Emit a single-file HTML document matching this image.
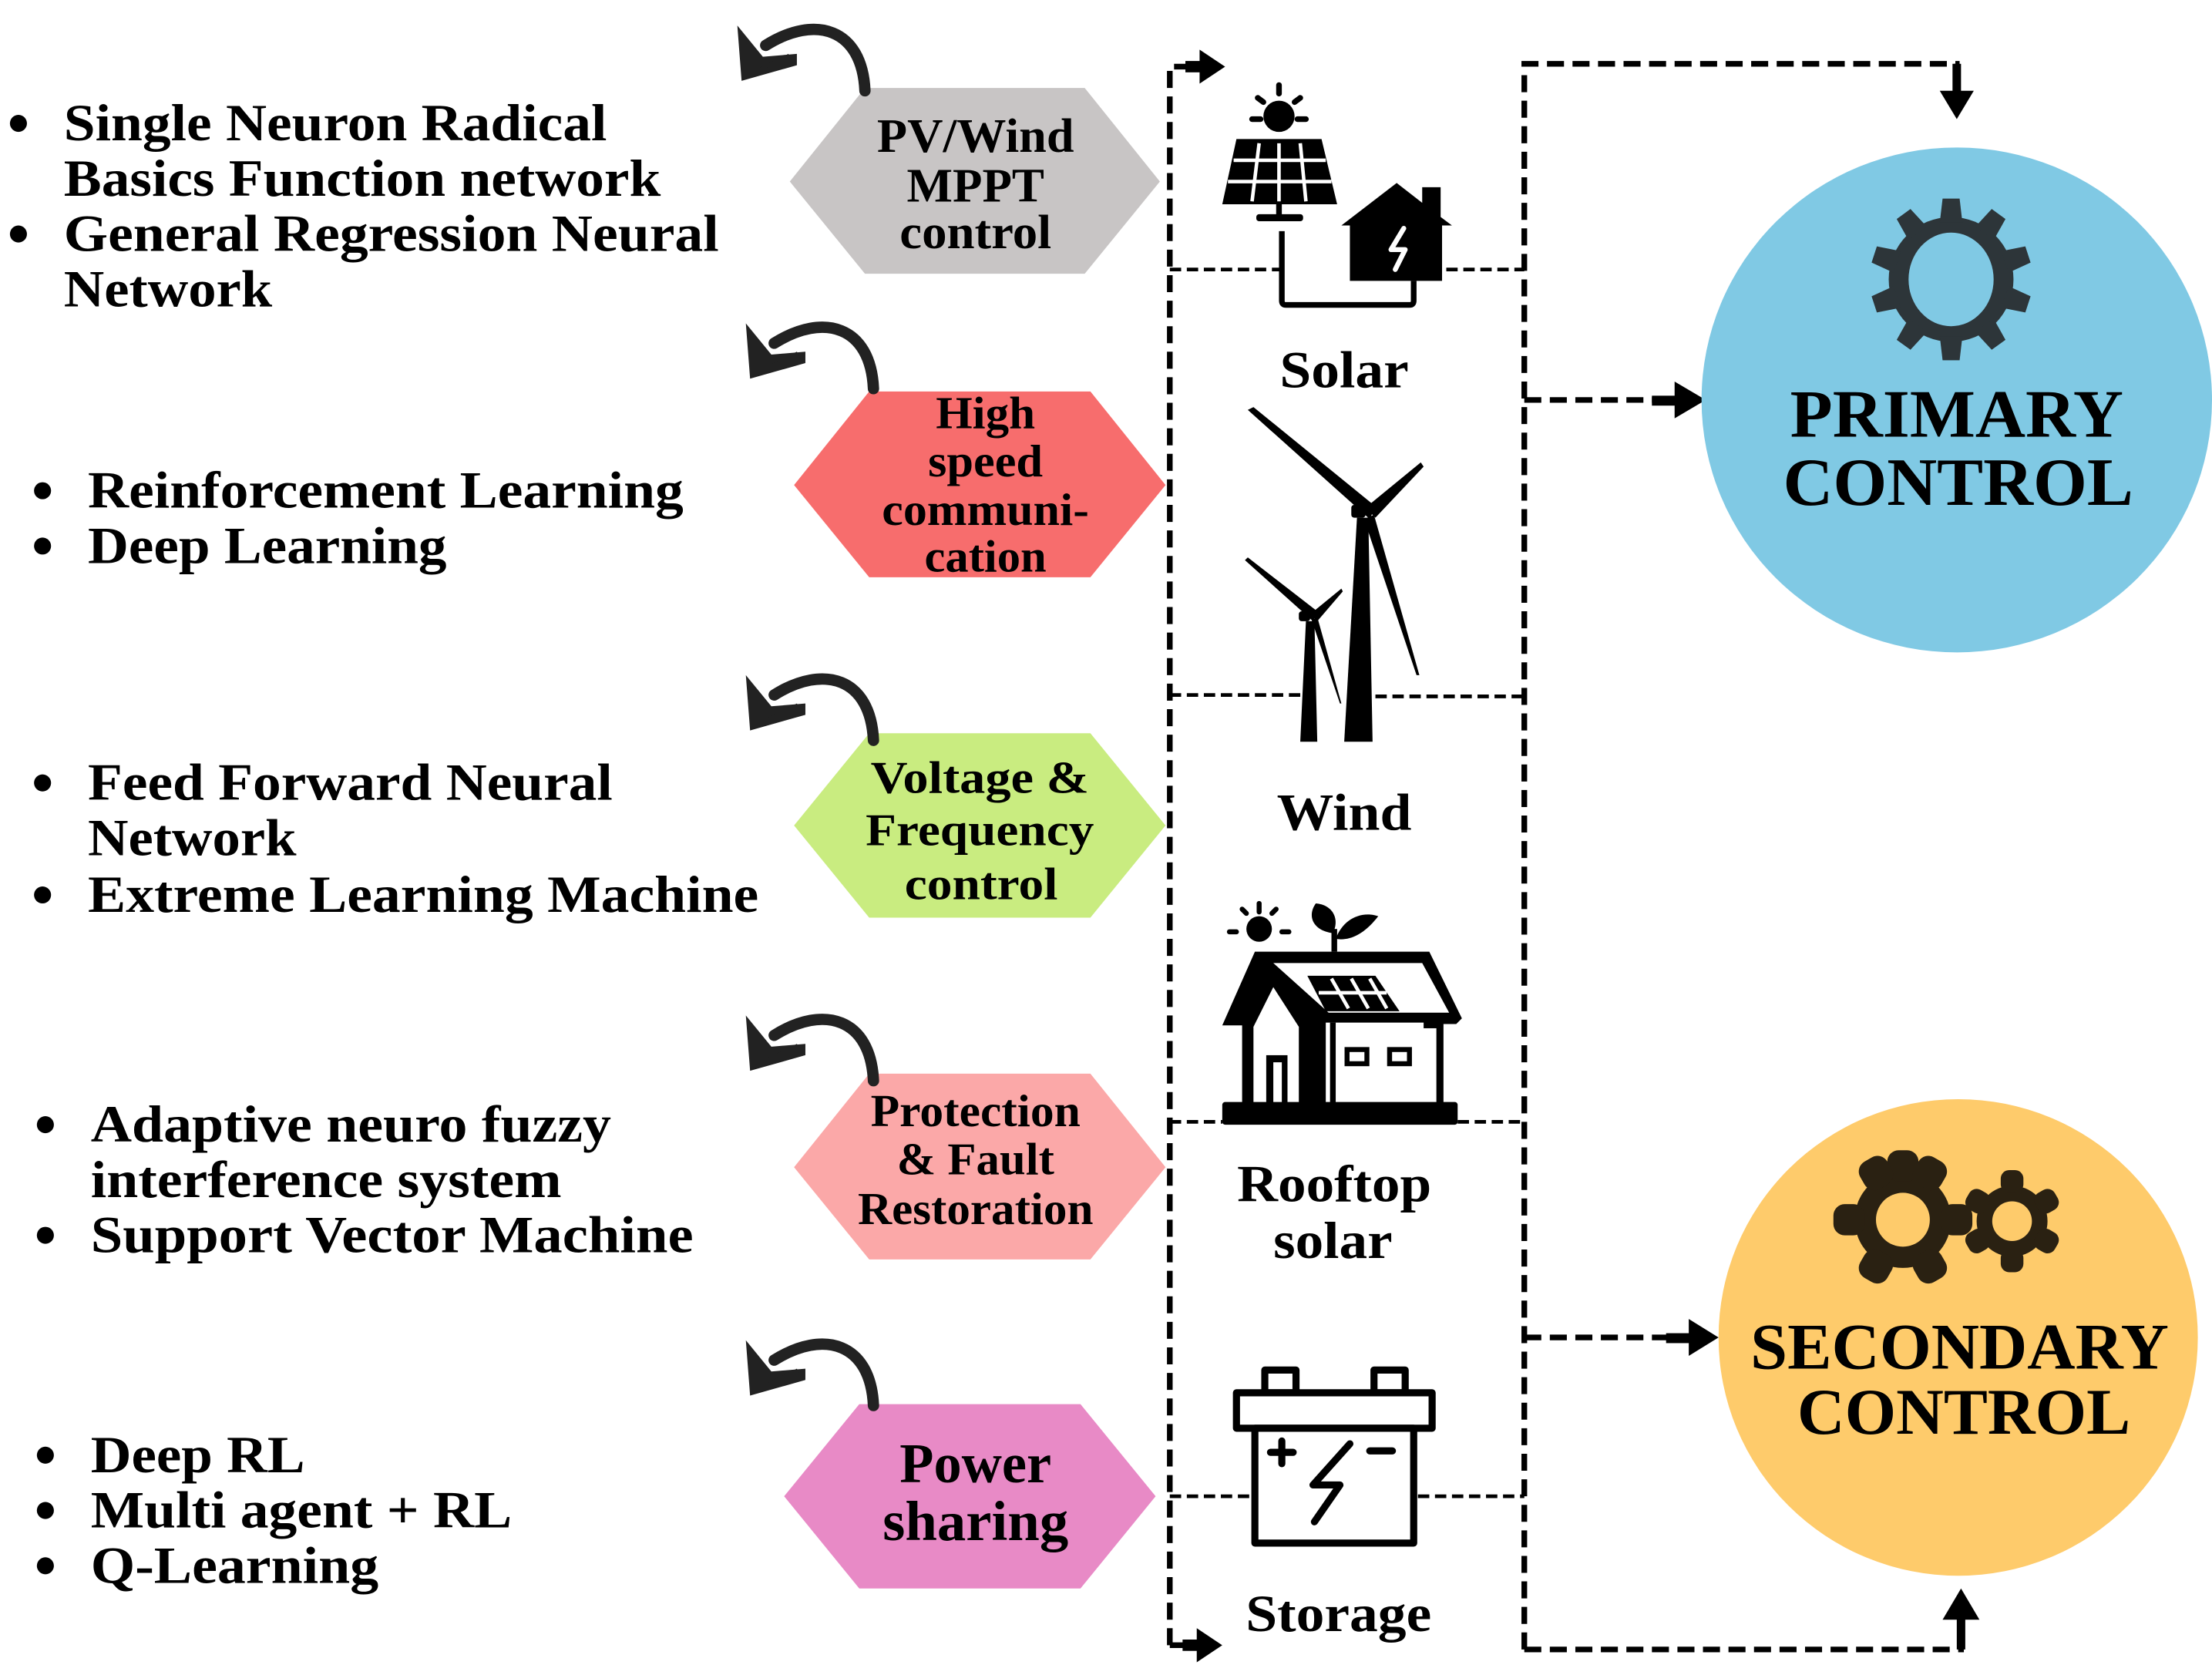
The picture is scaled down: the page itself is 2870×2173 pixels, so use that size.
<!DOCTYPE html>
<html><head><meta charset="utf-8"><style>
html,body{margin:0;padding:0;background:#fff;}
svg{display:block;}
text{font-family:"Liberation Serif",serif;font-weight:bold;fill:#000;}
</style></head><body>
<svg width="2870" height="2173" viewBox="0 0 1560 1181" preserveAspectRatio="none" xmlns="http://www.w3.org/2000/svg">
<defs>
<g id="carrow">
<path d="M610 64 C608 20 575 10 540 32" fill="none" stroke="#222" stroke-width="8" stroke-linecap="round"/>
<polygon points="520,18 523,57 562,46 562,38 538,40" fill="#222"/>
<path d="M556 38 L560 46 L535 48 Z" fill="#222"/>
</g>
</defs>

<!-- dashed connectors -->
<g fill="none" stroke="#000" stroke-width="4" stroke-dasharray="12,6">
<path d="M825 1160 V47 H850"/>
<path d="M1075 1163 V45 H1380 V70"/>
<path d="M1075 282 H1185"/>
<path d="M1075 943 H1195"/>
<path d="M1075 1163 H1383 V1140"/>
<path d="M825 1160 H848"/>
</g>
<g fill="none" stroke="#000" stroke-width="2.6" stroke-dasharray="8,4">
<path d="M825 190 H905 M1020 190 H1075"/>
<path d="M825 490 H920 M970 491 H1075"/>
<path d="M825 791 H862 M1028 791 H1075"/>
<path d="M825 1055 H885 M1000 1055 H1075"/>
</g>
<!-- arrowheads -->
<polygon points="846,35 864,47 846,59" fill="#000"/>
<rect x="836" y="43" width="12" height="8" fill="#000"/>
<polygon points="1368,64 1392,64 1380,84" fill="#000"/>
<rect x="1377" y="45" width="6" height="22" fill="#000"/>
<polygon points="1181,269 1203,282 1181,295" fill="#000"/>
<rect x="1165" y="279" width="18" height="7" fill="#000"/>
<polygon points="1191,930 1212,943 1191,956" fill="#000"/>
<rect x="1175" y="940" width="18" height="7" fill="#000"/>
<polygon points="1370,1142 1396,1142 1383,1120" fill="#000"/>
<polygon points="844,1148 862,1160 844,1172" fill="#000"/>
<rect x="834" y="1156" width="12" height="8" fill="#000"/>
<rect x="1380" y="1135" width="6" height="28" fill="#000"/>

<!-- circles -->
<ellipse cx="1380" cy="282" rx="180" ry="178" fill="#80c9e4"/>
<ellipse cx="1381" cy="943" rx="169" ry="168" fill="#fecb6b"/>

<!-- primary gear -->
<g transform="translate(1376,197)" fill="#2d3539">
<circle r="44"/>
<g id="t10"><polygon points="-8,-40 8,-40 6,-57 -6,-57"/></g>
<use href="#t10" transform="rotate(36)"/><use href="#t10" transform="rotate(72)"/><use href="#t10" transform="rotate(108)"/><use href="#t10" transform="rotate(144)"/><use href="#t10" transform="rotate(180)"/><use href="#t10" transform="rotate(216)"/><use href="#t10" transform="rotate(252)"/><use href="#t10" transform="rotate(288)"/><use href="#t10" transform="rotate(324)"/>
<ellipse rx="30" ry="33" fill="#80c9e4"/>
</g>
<!-- secondary gears -->
<g transform="translate(1342,860)" fill="#2a2112">
<circle r="34"/>
<g id="tb"><rect x="-11" y="-49" width="22" height="22" rx="8"/></g>
<use href="#tb" transform="rotate(90)"/><use href="#tb" transform="rotate(30)"/><use href="#tb" transform="rotate(150)"/><use href="#tb" transform="rotate(210)"/><use href="#tb" transform="rotate(270)"/><use href="#tb" transform="rotate(330)"/>
<circle r="19" fill="#fecb6b"/>
</g>
<g transform="translate(1419,861)" fill="#2a2112">
<circle r="25"/>
<g id="ts"><rect x="-8" y="-36" width="16" height="16" rx="6"/></g>
<use href="#ts" transform="rotate(60)"/><use href="#ts" transform="rotate(120)"/><use href="#ts" transform="rotate(180)"/><use href="#ts" transform="rotate(240)"/><use href="#ts" transform="rotate(300)"/>
<circle r="14" fill="#fecb6b"/>
</g>

<text x="1380" y="308" font-size="48" text-anchor="middle" textLength="235" lengthAdjust="spacingAndGlyphs">PRIMARY</text>
<text x="1381" y="356" font-size="48" text-anchor="middle" textLength="247" lengthAdjust="spacingAndGlyphs">CONTROL</text>
<text x="1382" y="965" font-size="46" text-anchor="middle" textLength="295" lengthAdjust="spacingAndGlyphs">SECONDARY</text>
<text x="1385" y="1011" font-size="46" text-anchor="middle" textLength="235" lengthAdjust="spacingAndGlyphs">CONTROL</text>

<!-- hexagons -->
<polygon points="557,128 610,62 765,62 818,128 765,193 610,193" fill="#c8c5c5"/>
<polygon points="560,342 613,276 769,276 822,342 769,407 613,407" fill="#f76d6d"/>
<polygon points="560,582 613,517 769,517 822,582 769,647 613,647" fill="#c9ec80"/>
<polygon points="560,823 613,757 769,757 822,823 769,888 613,888" fill="#fba8a8"/>
<polygon points="553,1055 606,990 762,990 815,1055 762,1120 606,1120" fill="#e88ac6"/>

<g font-size="34" text-anchor="middle">
<text x="688" y="107" textLength="139" lengthAdjust="spacingAndGlyphs">PV/Wind</text>
<text x="688" y="142" textLength="97" lengthAdjust="spacingAndGlyphs">MPPT</text>
<text x="688" y="175" textLength="107" lengthAdjust="spacingAndGlyphs">control</text>
</g>
<g font-size="32" text-anchor="middle">
<text x="695" y="302" textLength="70" lengthAdjust="spacingAndGlyphs">High</text>
<text x="695" y="336" textLength="81" lengthAdjust="spacingAndGlyphs">speed</text>
<text x="695" y="370" textLength="146" lengthAdjust="spacingAndGlyphs">communi-</text>
<text x="695" y="403" textLength="86" lengthAdjust="spacingAndGlyphs">cation</text>
<text x="691" y="559" textLength="154" lengthAdjust="spacingAndGlyphs">Voltage &amp;</text>
<text x="691" y="596" textLength="161" lengthAdjust="spacingAndGlyphs">Frequency</text>
<text x="692" y="634" textLength="108" lengthAdjust="spacingAndGlyphs">control</text>
<text x="688" y="794" textLength="148" lengthAdjust="spacingAndGlyphs">Protection</text>
<text x="688" y="828" textLength="111" lengthAdjust="spacingAndGlyphs">&amp; Fault</text>
<text x="688" y="863" textLength="166" lengthAdjust="spacingAndGlyphs">Restoration</text>
</g>
<g font-size="40" text-anchor="middle">
<text x="688" y="1045" textLength="107" lengthAdjust="spacingAndGlyphs">Power</text>
<text x="688" y="1086" textLength="131" lengthAdjust="spacingAndGlyphs">sharing</text>
</g>

<!-- curved arrows -->
<use href="#carrow"/>
<use href="#carrow" transform="translate(6,210)"/>
<use href="#carrow" transform="translate(6,458)"/>
<use href="#carrow" transform="translate(6,698)"/>
<use href="#carrow" transform="translate(6,927)"/>

<!-- left text -->
<g font-size="37">
<circle cx="13" cy="87" r="6"/><circle cx="13" cy="165" r="6"/>
<text x="45" y="99" textLength="383" lengthAdjust="spacingAndGlyphs">Single Neuron Radical</text>
<text x="45" y="138" textLength="421" lengthAdjust="spacingAndGlyphs">Basics Function network</text>
<text x="45" y="177" textLength="462" lengthAdjust="spacingAndGlyphs">General Regression Neural</text>
<text x="45" y="216" textLength="147" lengthAdjust="spacingAndGlyphs">Network</text>
<circle cx="30" cy="346" r="6"/><circle cx="30" cy="385" r="6"/>
<text x="62" y="358" textLength="420" lengthAdjust="spacingAndGlyphs">Reinforcement Learning</text>
<text x="62" y="397" textLength="253" lengthAdjust="spacingAndGlyphs">Deep Learning</text>
<circle cx="30" cy="552" r="6"/><circle cx="30" cy="631" r="6"/>
<text x="62" y="564" textLength="370" lengthAdjust="spacingAndGlyphs">Feed Forward Neural</text>
<text x="62" y="603" textLength="147" lengthAdjust="spacingAndGlyphs">Network</text>
<text x="62" y="643" textLength="473" lengthAdjust="spacingAndGlyphs">Extreme Learning Machine</text>
<circle cx="32" cy="793" r="6"/><circle cx="32" cy="871" r="6"/>
<text x="64" y="805" textLength="367" lengthAdjust="spacingAndGlyphs">Adaptive neuro fuzzy</text>
<text x="64" y="844" textLength="332" lengthAdjust="spacingAndGlyphs">interference system</text>
<text x="64" y="883" textLength="425" lengthAdjust="spacingAndGlyphs">Support Vector Machine</text>
<circle cx="32" cy="1026" r="6"/><circle cx="32" cy="1065" r="6"/><circle cx="32" cy="1104" r="6"/>
<text x="64" y="1038" textLength="151" lengthAdjust="spacingAndGlyphs">Deep RL</text>
<text x="64" y="1077" textLength="297" lengthAdjust="spacingAndGlyphs">Multi agent + RL</text>
<text x="64" y="1116" textLength="203" lengthAdjust="spacingAndGlyphs">Q-Learning</text>
</g>

<!-- icon labels -->
<g font-size="37" text-anchor="middle">
<text x="948" y="273" textLength="91" lengthAdjust="spacingAndGlyphs">Solar</text>
<text x="948" y="585" textLength="95" lengthAdjust="spacingAndGlyphs">Wind</text>
<text x="941" y="847" textLength="137" lengthAdjust="spacingAndGlyphs">Rooftop</text>
<text x="940" y="887" textLength="84" lengthAdjust="spacingAndGlyphs">solar</text>
<text x="944" y="1150" textLength="131" lengthAdjust="spacingAndGlyphs">Storage</text>
</g>

<!-- solar icon -->
<g fill="#000" stroke="#000">
<circle cx="902" cy="82" r="11" stroke="none"/>
<g stroke-width="4" stroke-linecap="round">
<line x1="902" y1="60" x2="902" y2="66"/><line x1="887" y1="69" x2="891" y2="72"/><line x1="917" y1="69" x2="913" y2="72"/>
<line x1="883" y1="84" x2="889" y2="84"/><line x1="915" y1="84" x2="921" y2="84"/>
</g>
<polygon points="872,98 932,98 943,144 862,144" stroke="none"/>
<g stroke="#fff" stroke-width="2.5">
<line x1="870" y1="113" x2="935" y2="113"/><line x1="866" y1="128" x2="939" y2="128"/>
<line x1="888" y1="101" x2="883" y2="142"/><line x1="902" y1="101" x2="902" y2="142"/><line x1="917" y1="101" x2="921" y2="142"/>
</g>
<rect x="900" y="144" width="4" height="9" stroke="none"/>
<rect x="886" y="151" width="33" height="5" rx="2" stroke="none"/>
<path d="M904 163 V212 Q904 215 907 215 H994 Q997 215 997 212 V198" fill="none" stroke-width="4"/>
<polygon points="985,129 946,159 952,159 952,198 1017,198 1017,159 1024,159 1016,153 1016,132 1003,132 1003,143" stroke="none"/>
<path d="M990 161 L981 176 L991 176 L984 190" fill="none" stroke="#fff" stroke-width="3.5" stroke-linejoin="round" stroke-linecap="round"/>
</g>

<!-- wind turbines -->
<g fill="#000">
<polygon points="957,365 965,365 968,523 948,523"/>
<polygon points="921,438 927,438 929,523 917,523"/>
<rect x="953" y="356" width="10" height="9" rx="2"/>
<rect x="916" y="431" width="8" height="7" rx="2"/>
<polygon points="880,289 884,287 970,357 966,366"/>
<polygon points="1002,326 1004,329 970,365 963,358"/>
<polygon points="962,366 969,363 1001,476 999,476"/>
<polygon points="878,395 880,393 929,431 926,438"/>
<polygon points="946,415 947,417 929,438 924,433"/>
<polygon points="925,437 929,435 946,496 945,496"/>
</g>

<!-- rooftop solar -->
<g fill="#000">
<circle cx="888" cy="655" r="9"/>
<g stroke="#000" stroke-width="3.5" stroke-linecap="round">
<line x1="888" y1="637" x2="888" y2="643"/><line x1="876" y1="641" x2="879" y2="644"/><line x1="900" y1="641" x2="897" y2="644"/>
<line x1="867" y1="657" x2="872" y2="657"/><line x1="904" y1="657" x2="909" y2="657"/>
</g>
<rect x="939" y="655" width="4" height="16"/>
<path d="M940 658 C925 656 922 645 928 637 C940 638 945 648 940 658 Z"/>
<path d="M942 662 C955 664 965 655 972 646 C960 642 947 648 942 662 Z"/>
<polygon points="885,671 1008,671 1031,718 1027,722 1017,722 1017,778 1004,778 1004,721 935,721 935,778 904,778 904,722 906,722 906,778 876,778 876,723 862,723"/>
<polygon points="884,724 898,696 916,724 916,778 884,778" fill="#fff"/>
<rect x="893" y="744" width="15" height="34" fill="#000"/>
<rect x="898" y="749" width="6" height="29" fill="#fff"/>
<polygon points="898,679 1003,679 1022,714 937,714" fill="#fff"/>
<polygon points="922,688 970,688 987,713 935,713"/>
<g stroke="#fff" stroke-width="2.5">
<line x1="930" y1="700" x2="978" y2="700"/>
<line x1="939" y1="690" x2="951" y2="711"/><line x1="953" y1="690" x2="965" y2="711"/><line x1="966" y1="690" x2="978" y2="711"/>
</g>
<rect x="942" y="725" width="75" height="53" fill="#fff"/>
<rect x="938" y="721" width="4" height="57"/>
<rect x="1013" y="721" width="5" height="57"/>
<rect x="950" y="740" width="14" height="10" fill="none" stroke="#000" stroke-width="3.5"/>
<rect x="980" y="740" width="14" height="10" fill="none" stroke="#000" stroke-width="3.5"/>
<rect x="862" y="777" width="166" height="16" rx="2"/>
</g>

<!-- battery -->
<g fill="none" stroke="#000" stroke-width="5" stroke-linejoin="round">
<rect x="872" y="982" width="138" height="25"/>
<rect x="885" y="1007" width="112" height="81"/>
<rect x="892" y="966" width="22" height="16"/>
<rect x="969" y="966" width="22" height="16"/>
<path d="M896 1024 H912 M904 1016 V1032 M966 1023 H982" stroke-linecap="round"/>
<path d="M952 1018 L926 1047 L945 1047 L927 1073" stroke-linecap="round"/>
</g>
</svg>
</body></html>
